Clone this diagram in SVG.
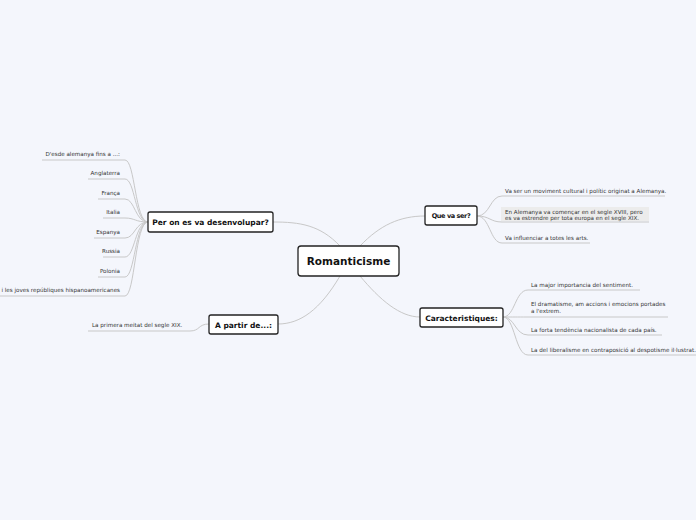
<svg xmlns="http://www.w3.org/2000/svg" width="696" height="520" viewBox="0 0 696 520">
<style>
.n rect{fill:#fff;stroke:#222;stroke-width:1.3}
.t{font-family:"DejaVu Sans",sans-serif;font-size:7.5px;font-weight:bold;fill:#111;text-anchor:middle}
.l{font-family:"DejaVu Sans",sans-serif;font-size:5.6px;fill:#333}
.r{text-anchor:end}
#c path{fill:none;stroke:#c8c8c8;stroke-width:1}
</style>
<rect width="696" height="520" fill="#f4f6fc"/>
<g id="c">
<path d="M340 246 C320 225 300 222 273 222"/>
<path d="M340 276 C320 310 300 324 278 324"/>
<path d="M360 246 C380 225 400 216 425 216"/>
<path d="M360 276 C380 300 400 317 420 317"/>
<path d="M148 222 C135 222 135 160 125 160 L42 160"/>
<path d="M148 222 C135 222 135 179 125 179 L88 179"/>
<path d="M148 222 C135 222 135 199 125 199 L98 199"/>
<path d="M148 222 C135 222 135 218 125 218 L103 218"/>
<path d="M148 222 C135 222 135 238 125 238 L94 238"/>
<path d="M148 222 C135 222 135 257 125 257 L103 257"/>
<path d="M148 222 C135 222 135 277 125 277 L98 277"/>
<path d="M148 222 C135 222 135 296 125 296 L0 296"/>
<path d="M209 324 C198 324 200 331 190 331 L88 331"/>
<path d="M477 216 C490 216 490 196 502 196 L665 196"/>
<path d="M477 216 C490 216 490 222 502 222 L649 222"/>
<path d="M477 216 C490 216 490 243 502 243 L590 243"/>
<path d="M503 317 C515 317 515 290 528 290 L640 290"/>
<path d="M503 317 C515 317 515 317 528 317 L668 317"/>
<path d="M503 317 C515 317 515 335 528 335 L662 335"/>
<path d="M503 317 C515 317 515 355 528 355 L696 355"/>
</g>
<g id="central" class="n"><rect x="298" y="246" width="101" height="30" rx="3"/><text class="t" x="348.5" y="265" style="font-size:10.5px">Romanticisme</text></g>
<g id="peron" class="n"><rect x="148" y="212" width="125" height="20" rx="2"/><text class="t" x="210.5" y="225">Per on es va desenvolupar?</text></g>
<g id="apartir" class="n"><rect x="209" y="315" width="69" height="19" rx="2"/><text class="t" x="243.5" y="327.5">A partir de...:</text></g>
<g id="queva" class="n"><rect x="425" y="206" width="52" height="19" rx="2"/><text class="t" x="451" y="218" style="font-size:6.5px;letter-spacing:-0.4px">Que va ser?</text></g>
<g id="carac" class="n"><rect x="420" y="308" width="83" height="19" rx="2"/><text class="t" x="461.5" y="320.5">Caracteristiques:</text></g>
<g id="leaves">
<text class="l r" x="120" y="156">D'esde alemanya fins a ...:</text>
<text class="l r" x="120" y="175">Anglaterra</text>
<text class="l r" x="120" y="195">França</text>
<text class="l r" x="120" y="214">Italia</text>
<text class="l r" x="120" y="234">Espanya</text>
<text class="l r" x="120" y="253">Russia</text>
<text class="l r" x="120" y="273">Polonia</text>
<text class="l r" x="120" y="292">Estats Units i les joves repúbliques hispanoamericanes</text>
<text class="l" x="92" y="327">La primera meitat del segle XIX.</text>
<text class="l" x="505" y="193">Va ser un moviment cultural i polític originat a Alemanya.</text>
<rect x="501" y="207" width="148" height="14" fill="#ececec"/>
<text class="l" x="505" y="214">En Alemanya va començar en el segle XVIII, pero</text>
<text class="l" x="505" y="220">es va estrendre per tota europa en el segle XIX.</text>
<text class="l" x="505" y="240">Va influenciar a totes les arts.</text>
<text class="l" x="531" y="287">La major importancia del sentiment.</text>
<text class="l" x="531" y="306">El dramatisme, am accions i emocions portades</text>
<text class="l" x="531" y="313">a l'extrem.</text>
<text class="l" x="531" y="332">La forta tendència nacionalista de cada país.</text>
<text class="l" x="531" y="352">La del liberalisme en contraposició al despotisme il·lustrat.</text>
</g>
</svg>
